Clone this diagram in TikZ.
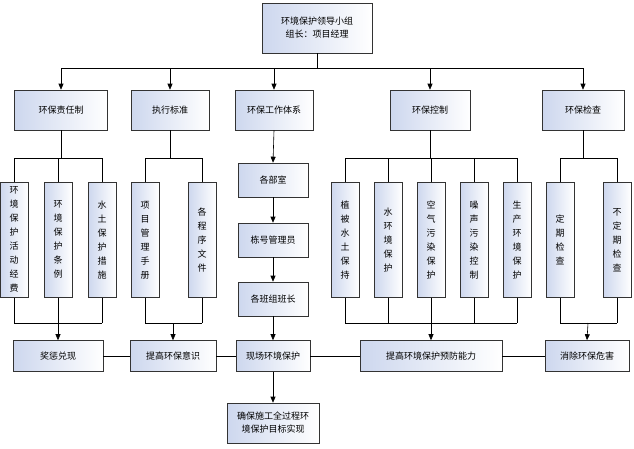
\documentclass[tikz,border=0pt]{standalone}
\usepackage{fontspec}
\setmainfont{Noto Sans CJK SC}
\usetikzlibrary{arrows.meta}
\definecolor{bl}{RGB}{205,215,238}
\tikzset{
 bx/.style={draw=black!80,line width=0.6pt,left color=bl,right color=white,inner sep=0pt,font=\fontsize{9}{13}\selectfont,align=center},
 ar/.style={-{Triangle[length=6pt,width=5pt]},line width=0.6pt},
 ln/.style={line width=0.6pt}
}
\newcommand{\vb}[6]{\node[bx,minimum width=#3pt,minimum height=#4pt] (#1) at (#2) {#5};}
\begin{document}
\begin{tikzpicture}[x=1pt,y=-1pt]
\useasboundingbox (0,0) rectangle (634,448);
% top
\node[bx,minimum width=110pt,minimum height=50pt] (top) at (317,28) {环境保护领导小组\\组长：项目经理};
% row2
\node[bx,minimum width=93pt,minimum height=40pt] (r1) at (61,110) {环保责任制};
\node[bx,minimum width=78pt,minimum height=40pt] (r2) at (170,110) {执行标准};
\node[bx,minimum width=78pt,minimum height=40pt] (r3) at (274,110) {环保工作体系};
\node[bx,minimum width=80pt,minimum height=40pt] (r4) at (430,110) {环保控制};
\node[bx,minimum width=82pt,minimum height=40pt] (r5) at (583,110) {环保检查};
\draw[ln] (top.south) -- (317,68);
\draw[ln] (61,68) -- (583,68);
\foreach \n/\x in {r1/61,r2/170,r3/274,r4/430,r5/583} \draw[ar] (\x,68) -- (\n.north);
% vertical boxes
\foreach \n/\x/\t in {a1/14/{环\\境\\保\\护\\活\\动\\经\\费},a2/58/{环\\境\\保\\护\\条\\例},a3/102/{水\\土\\保\\护\\措\\施},
 b1/145/{项\\目\\管\\理\\手\\册},b2/202/{各\\程\\序\\文\\件},
 c1/345/{植\\被\\水\\土\\保\\持},c2/388/{水\\环\\境\\保\\护},c3/431/{空\\气\\污\\染\\保\\护},c4/474/{噪\\声\\污\\染\\控\\制},c5/517/{生\\产\\环\\境\\保\\护},
 d1/560/{定\\期\\检\\查},d2/617/{不\\定\\期\\检\\查}}
 {\node[bx,minimum width=28pt,minimum height=115pt,anchor=north,font=\fontsize{9}{14}\selectfont] (\n) at (\x,182) {\t};
  \draw[ln] (\n.north) -- (\x,158);
  \draw[ln] (\n.south) -- (\x,323);}
\draw[ln] (14,158) -- (102,158); \draw[ln] (r1.south) -- (61,158);
\draw[ln] (14,323) -- (102,323);
\draw[ln] (145,158) -- (202,158); \draw[ln] (r2.south) -- (170,158);
\draw[ln] (145,323) -- (202,323);
\draw[ln] (345,158) -- (517,158); \draw[ln] (r4.south) -- (430,158);
\draw[ln] (345,323) -- (517,323);
\draw[ln] (560,158) -- (617,158); \draw[ln] (r5.south) -- (583,158);
\draw[ln] (560,323) -- (617,323);
% middle chain
\node[bx,minimum width=70pt,minimum height=34pt] (m1) at (273,180) {各部室};
\node[bx,minimum width=70pt,minimum height=34pt] (m2) at (273,240) {栋号管理员};
\node[bx,minimum width=70pt,minimum height=34pt] (m3) at (273,299) {各班组班长};
\draw[ar] (r3.south) -- (m1.north);
\draw[ar] (m1.south) -- (m2.north);
\draw[ar] (m2.south) -- (m3.north);
% bottom row
\node[bx,minimum width=90pt,minimum height=31pt] (e1) at (58,356) {奖惩兑现};
\node[bx,minimum width=86pt,minimum height=31pt] (e2) at (173,356) {提高环保意识};
\node[bx,minimum width=74pt,minimum height=31pt] (e3) at (273,356) {现场环境保护};
\node[bx,minimum width=142pt,minimum height=31pt] (e4) at (431,356) {提高环境保护预防能力};
\node[bx,minimum width=84pt,minimum height=31pt] (e5) at (587,356) {消除环保危害};
\draw[ar] (58,323) -- (e1.north);
\draw[ar] (173,323) -- (e2.north);
\draw[ar] (m3.south) -- (e3.north);
\draw[ar] (431,323) -- (e4.north);
\draw[ar] (588,323) -- (e5.north);
\draw[ln] (e1) -- (e2); \draw[ln] (e2) -- (e3); \draw[ln] (e3) -- (e4); \draw[ln] (e4) -- (e5);
\node[bx,minimum width=92pt,minimum height=40pt] (f) at (273,423) {确保施工全过程环\\境保护目标实现};
\draw[ar] (e3.south) -- (f.north);
\end{tikzpicture}
\end{document}
